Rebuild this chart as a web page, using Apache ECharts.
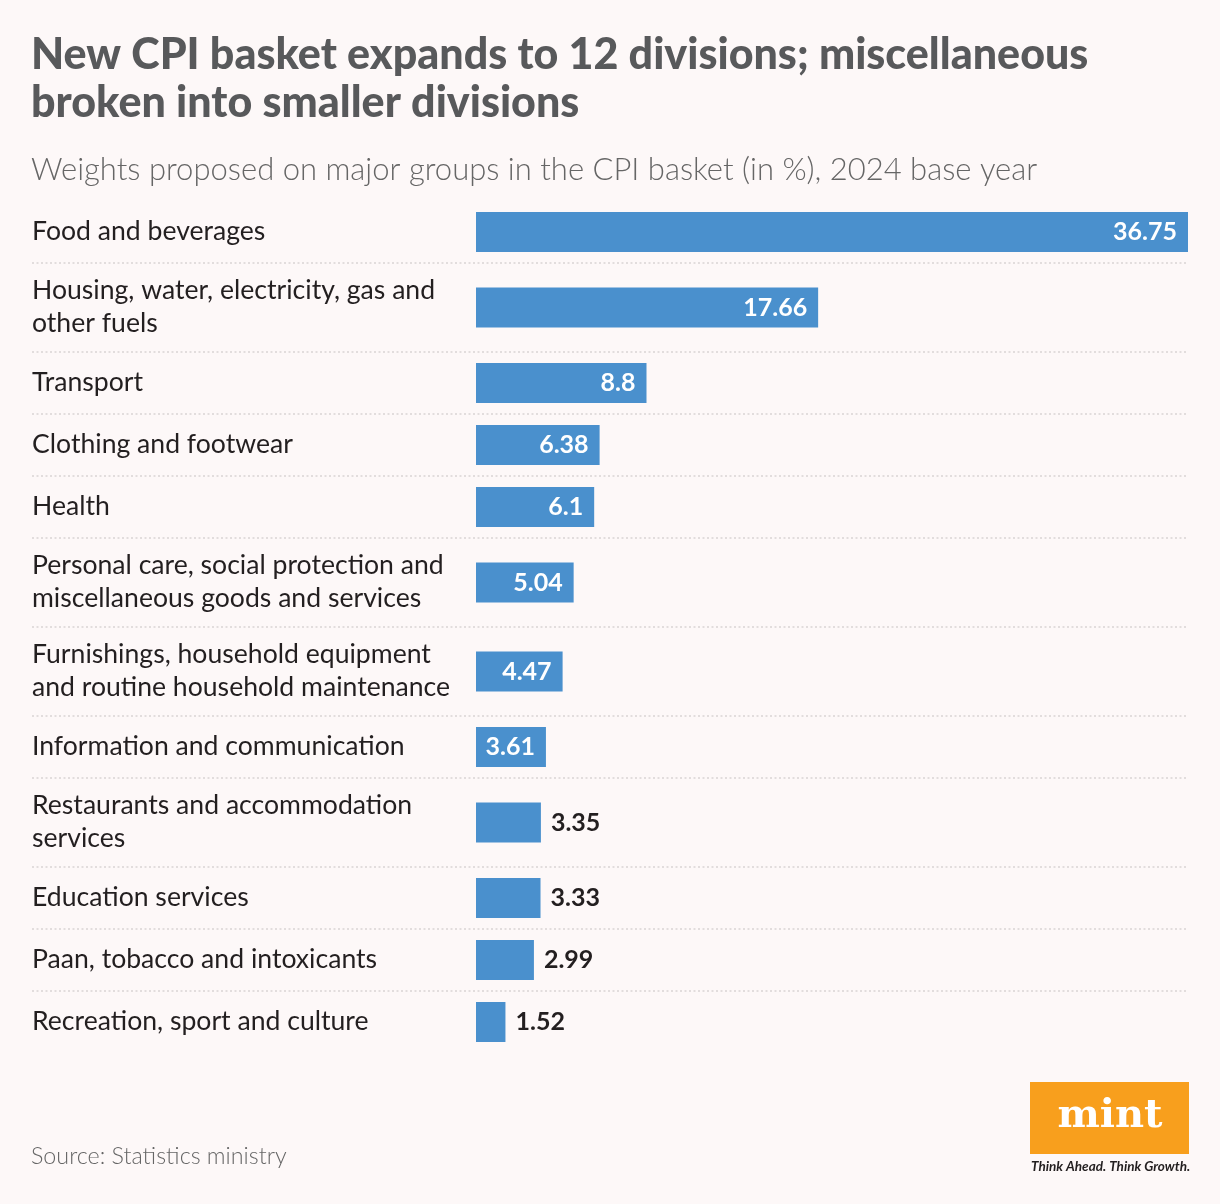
<!DOCTYPE html>
<html lang="en">
<head>
    <meta charset="UTF-8">
    <title>New CPI basket</title>
    <style>
        * { padding: 0; margin: 0; }
        html, body { width: 100%; height: 100%; background: #fdf8f8; }
        #chart { width: 1220px; height: 1204px; }
    </style>
</head>
<body>
    <div id="chart"></div>
    <script src="https://cdn.jsdelivr.net/npm/echarts@6/dist/echarts.min.js"></script>
    <script type="text/javascript">
        // categories (line breaks as in the original graphic)
        const categories = [
            'Food and beverages',
            'Housing, water, electricity, gas and\nother fuels',
            'Transport',
            'Clothing and footwear',
            'Health',
            'Personal care, social protection and\nmiscellaneous goods and services',
            'Furnishings, household equipment\nand routine household maintenance',
            'Information and communication',
            'Restaurants and accommodation\nservices',
            'Education services',
            'Paan, tobacco and intoxicants',
            'Recreation, sport and culture'
        ];
        const weights = [36.75, 17.66, 8.8, 6.38, 6.1, 5.04, 4.47, 3.61, 3.35, 3.33, 2.99, 1.52];

        const FONT = 'Lato, "Noto Sans", sans-serif';

        // row heights grow with the number of label lines
        let rows = [];
        let acc = 0;
        categories.forEach((c, i) => {
            let lines = c.split('\n').length;
            let h = 35 + 27 * lines;
            rows.push([weights[i], acc, acc + h]);
            acc += h;
        });
        const total = acc;
        const xMax = Math.max(...weights);

        const chart = echarts.init(document.getElementById('chart'));
        const option = {
            backgroundColor: '#fdf8f8',
            animation: false,
            title: [
                {
                    text: 'New CPI basket expands to 12 divisions; miscellaneous\nbroken into smaller divisions',
                    left: 31, top: 31, padding: 0,
                    textStyle: { fontFamily: FONT, fontWeight: 900, fontSize: 43, lineHeight: 48, color: '#58595b' }
                },
                {
                    text: 'Weights proposed on major groups in the CPI basket (in %), 2024 base year',
                    left: 31, top: 154, padding: 0,
                    textStyle: { fontFamily: FONT, fontWeight: 300, fontSize: 31, color: '#666666' }
                },
                {
                    text: 'Source: Statistics ministry',
                    left: 31, top: 1145, padding: 0,
                    textStyle: { fontFamily: FONT, fontWeight: 300, fontSize: 23.3, color: '#666666' }
                }
            ],
            grid: { left: 476, right: 32, top: 201, height: total },
            xAxis: { type: 'value', min: 0, max: xMax, show: false },
            yAxis: { type: 'value', min: 0, max: total, inverse: true, show: false },
            series: [{
                type: 'custom',
                data: rows,
                encode: { x: 0, y: [1, 2] },
                renderItem: function (params, api) {
                    let i = params.dataIndex;
                    let v = api.value(0);
                    let mid = (api.value(1) + api.value(2)) / 2;
                    let p0 = api.coord([0, mid]);
                    let p1 = api.coord([v, mid]);
                    let bh = 40;
                    let inside = v >= 3.5;
                    let children = [
                        {
                            type: 'rect',
                            shape: { x: p0[0], y: p0[1] - bh / 2, width: p1[0] - p0[0], height: bh },
                            style: { fill: '#4a90cd' }
                        },
                        {
                            type: 'text',
                            x: inside ? p1[0] - 11 : p1[0] + 10,
                            y: p0[1],
                            style: {
                                text: String(v),
                                align: inside ? 'right' : 'left',
                                verticalAlign: 'middle',
                                fontFamily: FONT, fontWeight: 'bold', fontSize: 25,
                                fill: inside ? '#ffffff' : '#231f20'
                            }
                        },
                        {
                            type: 'text',
                            x: 32,
                            y: p0[1] - 1,
                            style: {
                                text: categories[i],
                                verticalAlign: 'middle',
                                lineHeight: 33,
                                fontFamily: FONT, fontSize: 26.6,
                                fill: '#231f20'
                            }
                        }
                    ];
                    if (i < rows.length - 1) {
                        let sep = api.coord([xMax, api.value(2)]);
                        children.push({
                            type: 'line',
                            shape: { x1: 32, y1: sep[1], x2: sep[0], y2: sep[1] },
                            style: { stroke: '#d9d4d4', lineWidth: 1.5, lineDash: [2, 2.5] }
                        });
                    }
                    return { type: 'group', children: children };
                }
            }],
            graphic: [
                {
                    type: 'rect',
                    shape: { x: 1030, y: 1082, width: 159, height: 72 },
                    style: { fill: '#f89f1d' }
                },
                {
                    type: 'text',
                    x: 1110, y: 1117,
                    style: {
                        text: 'mint', align: 'center', verticalAlign: 'middle',
                        fontFamily: '"DejaVu Serif", serif', fontWeight: 'bold', fontSize: 40, fill: '#ffffff'
                    }
                },
                {
                    type: 'text',
                    x: 1031, y: 1167,
                    style: {
                        text: 'Think Ahead. Think Growth.', verticalAlign: 'middle',
                        fontFamily: FONT, fontStyle: 'italic', fontWeight: 'bold', fontSize: 13.5, fill: '#231f20'
                    }
                }
            ]
        };
        chart.setOption(option);
    </script>
</body>
</html>
